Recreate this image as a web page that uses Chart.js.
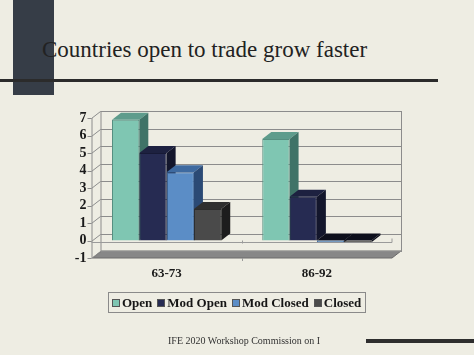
<!DOCTYPE html>
<html>
<head>
<meta charset="utf-8">
<script src="https://cdn.jsdelivr.net/npm/chart.js@4.4.1/dist/chart.umd.min.js"></script>
<style>
  body { margin: 0; width: 474px; height: 355px; background: #eeede3; position: relative; overflow: hidden; font-family: "Liberation Serif", "Times New Roman", serif; }
  #sidebar { position: absolute; left: 13px; top: 0; width: 41px; height: 95px; background: #363d47; }
  #rule { position: absolute; left: 0; top: 79px; width: 438px; height: 3px; background: #2b2b2b; }
  #title { position: absolute; left: 42px; top: 38px; font-size: 23px; line-height: 23px; color: #222; white-space: nowrap; }
  #wheel { position: absolute; left: 0; top: 0; }
  #legend { position: absolute; left: 108px; top: 292px; height: 19px; border: 1px solid #8a8a8a; display: flex; align-items: center; gap: 5px; padding: 0 4px 0 3px; font-weight: bold; font-size: 13px; color: #161616; }
  #legend .item { display: flex; align-items: center; white-space: nowrap; }
  #legend .sw { width: 6px; height: 6px; border: 1px solid #555; margin-right: 2px; }
  #footer { position: absolute; left: 168px; top: 336px; font-size: 10px; line-height: 10px; color: #333; white-space: nowrap; }
  #footline { position: absolute; left: 366px; top: 339px; width: 108px; height: 4px; background: #2e2e2e; }
</style>
</head>
<body>
<div id="sidebar"></div>
<div id="rule"></div>
<div id="title">Countries open to trade grow faster</div>
<canvas id="wheel" width="474" height="355"></canvas>
<div id="legend"></div>
<div id="footer">IFE 2020 Workshop Commission on I</div>
<div id="footline"></div>
<script>
// Data
const categories = ["63-73", "86-92"];
const seriesNames = ["Open", "Mod Open", "Mod Closed", "Closed"];
const openValues = [6.9, 5.8];
const modOpenValues = [5.0, 2.5];
const modClosedValues = [3.9, -0.1];
const closedValues = [1.8, -0.1];
const yMin = -1;
const yMax = 7;

// Colours: front, top and side faces
const frontColours = ["#7fc6b2", "#262b52", "#5b8dc6", "#4a4a4a"];
const topColours = ["#5e9c8c", "#1d2140", "#3e6aa0", "#2f2f2f"];
const sideColours = ["#3f7367", "#13162c", "#2b4a75", "#1d1d1d"];
const edgeColours = ["#558f80", "#171a36", "#3d689c", "#2c2c2c"];

const DX = 9;
const DY = 7;
const fontFamily = '"Liberation Serif", "Times New Roman", serif';

// Walls, floor and the depth faces of each bar
const box3d = {
  id: "box3d",
  beforeDatasetsDraw(chart) {
    const { ctx, chartArea, scales } = chart;
    const { left, right, top, bottom } = chartArea;
    const y = scales.y;
    ctx.save();
    ctx.lineWidth = 1;

    // floor at the bottom of the scale
    ctx.beginPath();
    ctx.moveTo(left + 1, bottom);
    ctx.lineTo(right, bottom);
    ctx.lineTo(right + DX, bottom - DY);
    ctx.lineTo(left + 1 + DX, bottom - DY);
    ctx.closePath();
    ctx.fillStyle = "#878787";
    ctx.fill();
    ctx.strokeStyle = "#6a6a6a";
    ctx.stroke();
    ctx.beginPath();
    ctx.moveTo(left + 1 + DX, bottom - DY + 0.5);
    ctx.lineTo(right + DX, bottom - DY + 0.5);
    ctx.strokeStyle = "#b0b0b0";
    ctx.stroke();

    // back wall and grid lines
    ctx.strokeStyle = "#8c8c8c";
    ctx.strokeRect(left + DX + 0.5, top - DY + 0.5, right - left, bottom - top);
    y.ticks.forEach((t) => {
      const yy = Math.round(y.getPixelForValue(t.value)) + 0.5;
      ctx.beginPath();
      ctx.moveTo(left + DX, yy - DY);
      ctx.lineTo(right + DX, yy - DY);
      ctx.moveTo(left, yy);
      ctx.lineTo(left + DX, yy - DY);
      ctx.moveTo(left - 4, yy);
      ctx.lineTo(left, yy);
      ctx.stroke();
    });
    // left wall front edge
    ctx.beginPath();
    ctx.moveTo(left + 0.5, top);
    ctx.lineTo(left + 0.5, bottom);
    ctx.stroke();

    // zero line
    const y0 = Math.round(y.getPixelForValue(0)) + 1.5;
    ctx.beginPath();
    ctx.moveTo(left, y0);
    ctx.lineTo(right, y0);
    ctx.lineTo(right, y0 - 4);
    const mid = Math.round((left + right) / 2) + 0.5;
    ctx.moveTo(mid, y0 - 2);
    ctx.lineTo(mid, y0 + 1);
    ctx.moveTo(mid, bottom);
    ctx.lineTo(mid, bottom + 3);
    ctx.strokeStyle = "#9a9a9a";
    ctx.stroke();

    // top and side faces of the bars
    chart.data.datasets.forEach((ds, i) => {
      const meta = chart.getDatasetMeta(i);
      meta.data.forEach((bar, j) => {
        const l = bar.x - bar.width / 2;
        const r = bar.x + bar.width / 2;
        const t = Math.min(bar.y, bar.base);
        const b = Math.max(bar.y, bar.base);
        const negative = ds.data[j] < 0;

        ctx.beginPath();
        ctx.moveTo(l, t);
        ctx.lineTo(r, t);
        ctx.lineTo(r + DX, t - DY);
        ctx.lineTo(l + DX, t - DY);
        ctx.closePath();
        ctx.fillStyle = negative ? "#0d0f1c" : topColours[i];
        ctx.fill();

        ctx.beginPath();
        ctx.moveTo(r, t);
        ctx.lineTo(r + DX, t - DY);
        ctx.lineTo(r + DX, b - DY);
        ctx.lineTo(r, b);
        ctx.closePath();
        ctx.fillStyle = negative ? "#0d0f1c" : sideColours[i];
        ctx.fill();
      });
    });
    ctx.restore();
  },
};

const seriesValues = [openValues, modOpenValues, modClosedValues, closedValues];

new Chart(document.getElementById("wheel"), {
  type: "bar",
  data: {
    labels: categories,
    datasets: seriesNames.map((name, i) => ({
      label: name,
      data: seriesValues[i],
      backgroundColor: frontColours[i],
      borderColor: edgeColours[i],
      borderWidth: 1,
      categoryPercentage: 0.727,
      barPercentage: 1,
    })),
  },
  options: {
    responsive: false,
    animation: false,
    layout: { padding: { left: 0, right: 82, top: 118, bottom: 72 } },
    plugins: { legend: { display: false }, tooltip: { enabled: false } },
    scales: {
      x: {
        grid: { display: false, drawTicks: false },
        border: { display: false },
        ticks: { color: "#1a1a1a", padding: 8, font: { family: fontFamily, size: 13, weight: "bold" } },
        afterFit: (s) => { s.height = 25; },
      },
      y: {
        min: yMin,
        max: yMax,
        grid: { display: false, drawTicks: false },
        border: { display: false },
        ticks: { stepSize: 1, autoSkip: false, color: "#1a1a1a", padding: 5, font: { family: fontFamily, size: 14, weight: "bold" } },
        afterFit: (s) => { s.width = 91.5; },
      },
    },
  },
  plugins: [box3d],
});

// Legend
const legend = document.getElementById("legend");
seriesNames.forEach((name, i) => {
  const item = document.createElement("div");
  item.className = "item";
  item.innerHTML = `<span class="sw" style="background:${frontColours[i]}"></span>${name}`;
  legend.appendChild(item);
});
</script>
</body>
</html>
